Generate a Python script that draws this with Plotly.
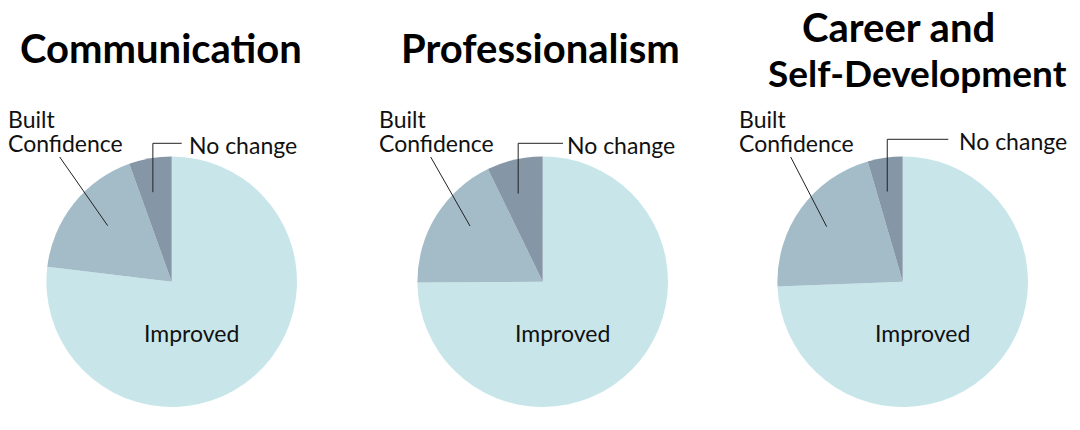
import math
import plotly.graph_objects as go

titles = [["Communication"], ["Professionalism"], ["Career and", "Self-Development"]]
categories = ["Improved", "Built Confidence", "No change"]
improved = [76.9, 74.9, 74.4]
built_confidence = [17.6, 17.9, 21.1]
no_change = [5.5, 7.2, 4.5]
colors = ["#c8e6ea", "#a3bcc8", "#8596a6"]

W, H = 1080, 430
OFF = 8  # page body margin in the browser
centers_x = [171.7, 542.7, 902.7]   # pixel centres of pies
center_y = 281.7
R = 125.3

# leader-line geometry (layout only)
built_line_end = [(107.7, 225.7), (470.0, 226.0), (826.7, 226.7)]
nochange_top = [143.3, 143.3, 139.3]
nochange_hend = [181.7, 563.0, 948.3]
nochange_text_x = [190, 568, 960]

fig = go.Figure()
FONT = "Lato"
LBL = dict(family=FONT, size=23, color="#111111")
shapes = []
annotations = []


def px(x):
    return (x - OFF) / W


def py(y):
    return 1 - (y - OFF) / H


for i in range(3):
    cx = centers_x[i]
    vals = [improved[i], built_confidence[i], no_change[i]]
    fig.add_trace(go.Pie(
        labels=categories, values=vals, sort=False, direction="clockwise",
        rotation=0, marker=dict(colors=colors, line=dict(width=0)),
        textinfo="none", hoverinfo="label+value", showlegend=False,
        domain=dict(x=[px(cx - R), px(cx + R)], y=[py(center_y + R), py(center_y - R)]),
    ))
    total = sum(vals)
    a2 = (improved[i] + built_confidence[i]) / total * 360
    # Built Confidence leader line
    bx, by = built_line_end[i]
    shapes.append(dict(type="line", xref="paper", yref="paper",
                       x0=px(cx - 112), y0=py(157), x1=px(bx), y1=py(by),
                       line=dict(color="#222222", width=1)))
    for txt, ty in (("Built", 119.5), ("Confidence", 142.5)):
        annotations.append(dict(text=txt, x=px(cx - 166), y=py(ty),
                                xref="paper", yref="paper", xanchor="left", yanchor="middle",
                                showarrow=False, font=LBL))
    # No change leader line (bent)
    ang = math.radians(a2 + 0.4 * (360 - a2))
    nx = cx + 0.73 * R * math.sin(ang)
    ny = center_y - 0.73 * R * math.cos(ang)
    top_y = nochange_top[i]
    hx = nochange_hend[i]
    shapes.append(dict(type="path", xref="paper", yref="paper",
                       path=f"M {px(nx)},{py(ny)} L {px(nx)},{py(top_y)} L {px(hx)},{py(top_y)}",
                       line=dict(color="#222222", width=1)))
    annotations.append(dict(text="No change", x=px(nochange_text_x[i] - 3), y=py(top_y + 2),
                            xref="paper", yref="paper", xanchor="left", yanchor="middle",
                            showarrow=False, font=LBL))
    # Improved label
    annotations.append(dict(text="Improved", x=px(cx + 20), y=py(333),
                            xref="paper", yref="paper", xanchor="center", yanchor="middle",
                            showarrow=False, font=LBL))

title_lines = [
    (titles[0][0], 161, 48, 40),
    (titles[1][0], 540, 48, 40),
    (titles[2][0], 898, 26.5, 40),
    (titles[2][1], 917, 72, 37),
]
for t, tx, ty, fs in title_lines:
    annotations.append(dict(text=f"<b>{t}</b>", x=px(tx), y=py(ty), xref="paper", yref="paper",
                            xanchor="center", yanchor="middle", showarrow=False,
                            font=dict(family=FONT, size=fs, color="#000000")))

fig.update_layout(width=W, height=H, margin=dict(l=0, r=0, t=0, b=0),
                  paper_bgcolor="white", plot_bgcolor="white",
                  shapes=shapes, annotations=annotations)
fig.write_html("out.html")
